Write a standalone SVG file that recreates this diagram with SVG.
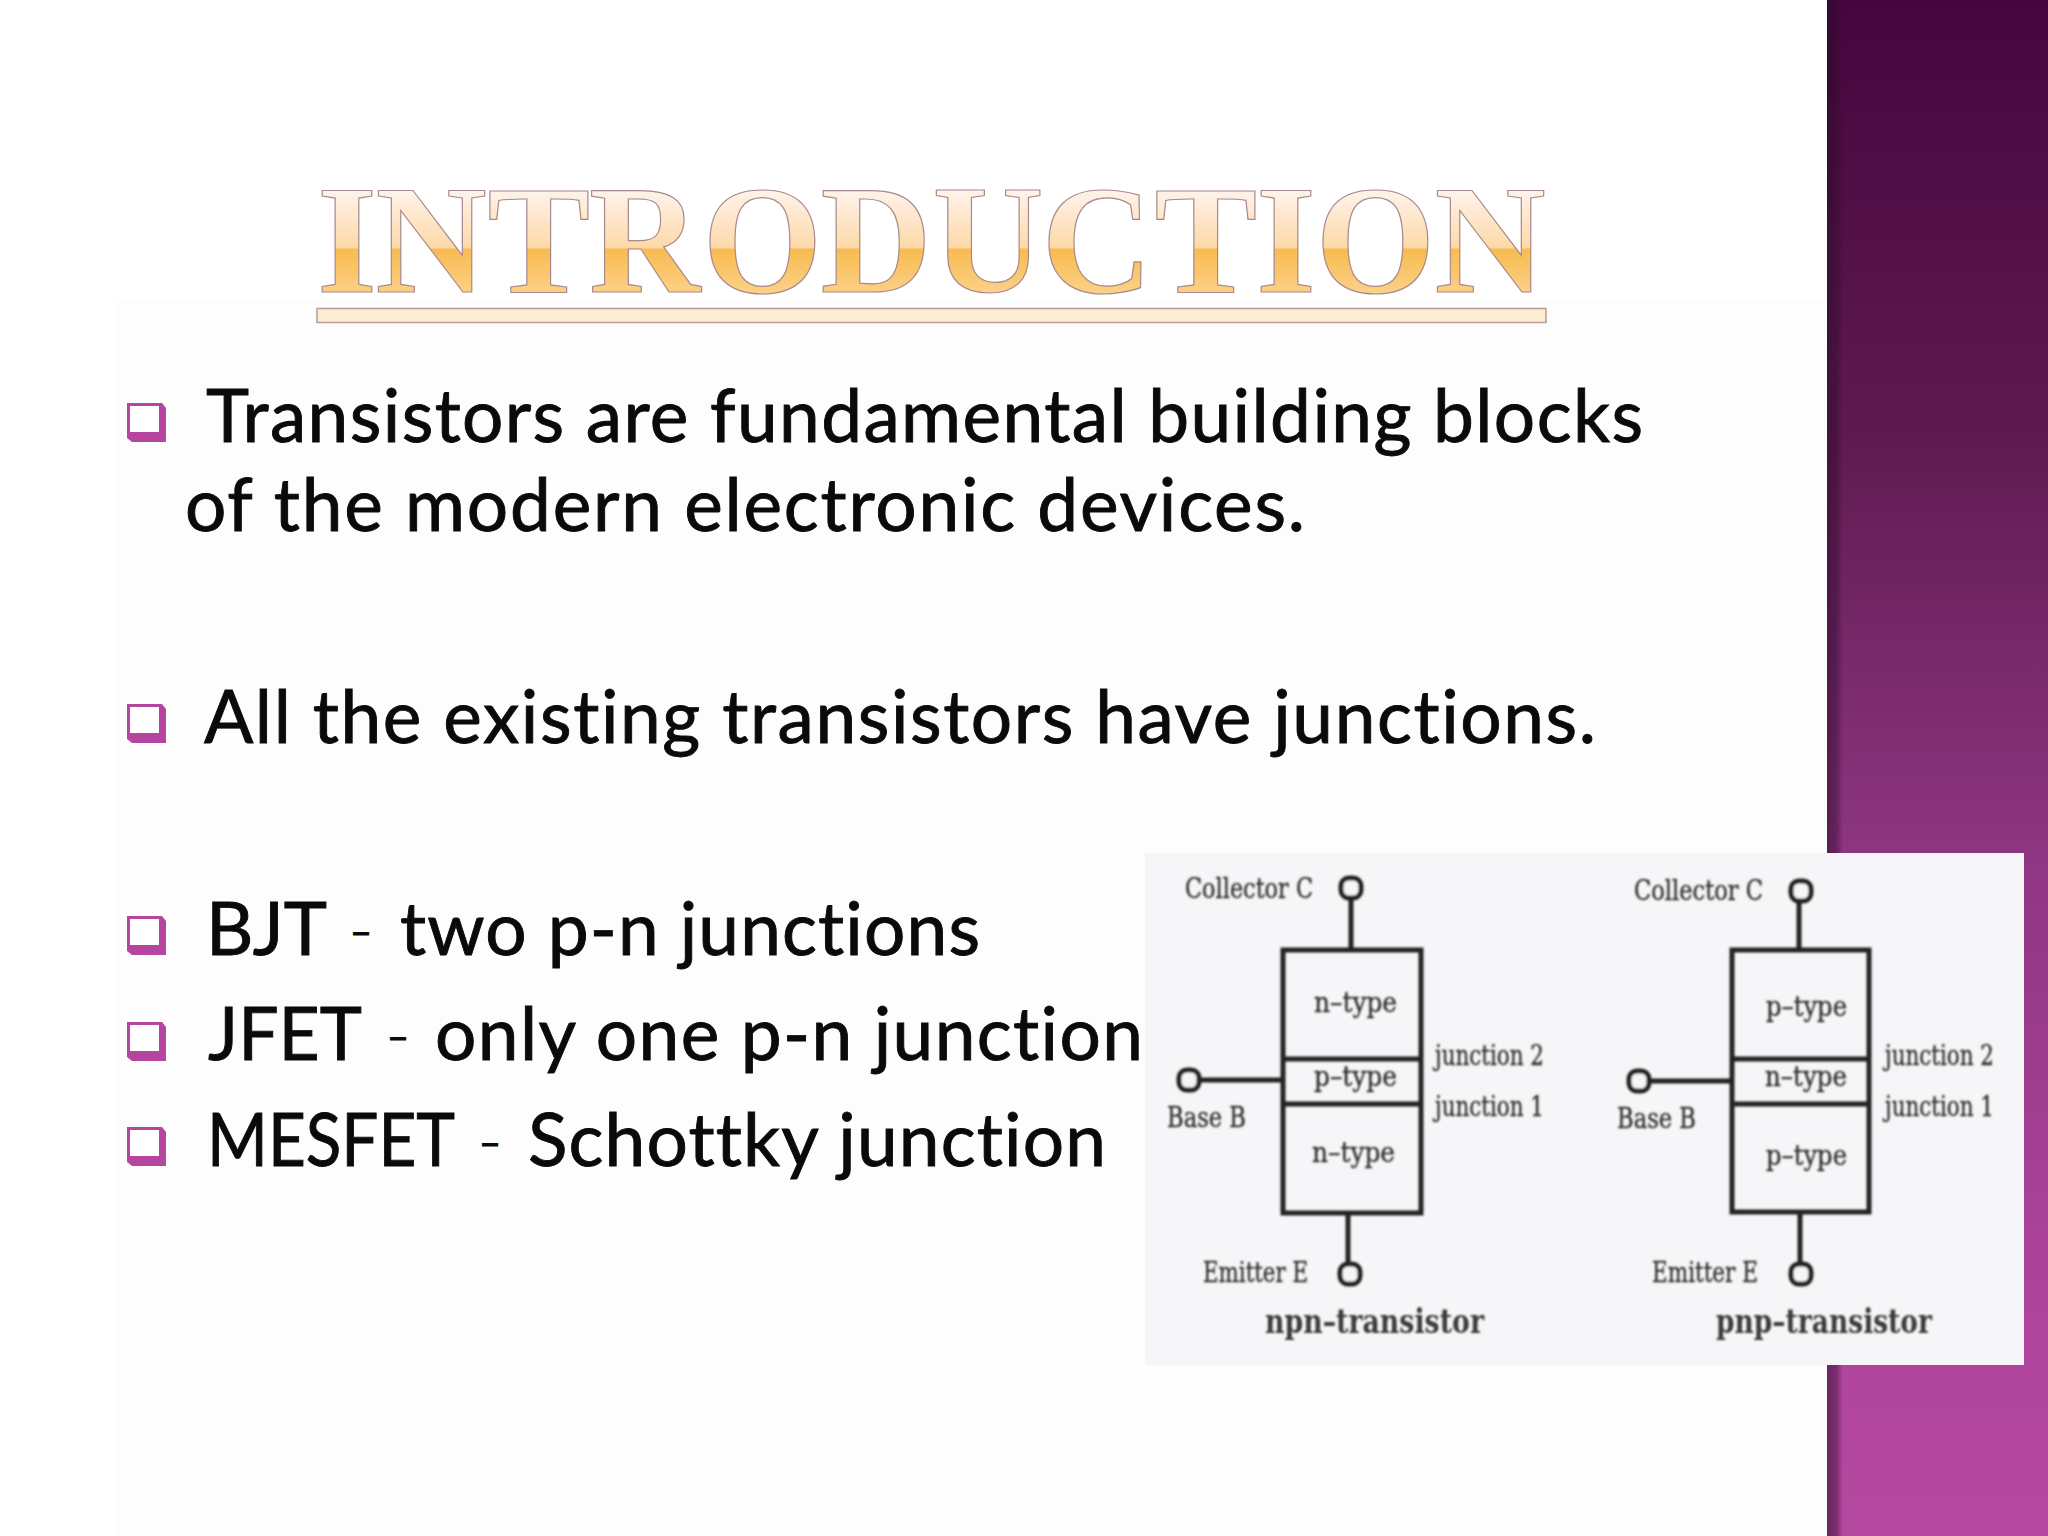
<svg xmlns="http://www.w3.org/2000/svg" width="2048" height="1536" viewBox="0 0 2048 1536">
<style>
.body{font-family:"Lato","Noto Sans",sans-serif;font-size:73px;fill:#0a0a0a;stroke:#0a0a0a;stroke-width:0.9;font-variant-ligatures:none}
.dash{font-family:"Lato","Noto Sans",sans-serif;font-size:38px;fill:#0a0a0a;stroke:#0a0a0a;stroke-width:1}
.lab{font-family:"DejaVu Serif","Liberation Serif",serif;font-size:27px;fill:#333;stroke:#333;stroke-width:0.4}
.cap{font-family:"DejaVu Serif","Liberation Serif",serif;font-size:33px;font-weight:bold;fill:#3a3a3a}
.ln{fill:none;stroke:#222;stroke-width:5}
.term{fill:#f6f5f8;stroke:#222;stroke-width:5}
</style>
<defs>
<linearGradient id="side" x1="0" y1="0" x2="0" y2="1">
<stop offset="0" stop-color="#47053f"/>
<stop offset="0.28" stop-color="#5e1a50"/>
<stop offset="0.56" stop-color="#8f3682"/>
<stop offset="0.87" stop-color="#b0459e"/>
<stop offset="1" stop-color="#b5489f"/>
</linearGradient>
<linearGradient id="edge" x1="0" y1="0" x2="1" y2="0">
<stop offset="0" stop-color="#2a0a2a" stop-opacity="0.55"/>
<stop offset="0.6" stop-color="#2a0a2a" stop-opacity="0.4"/>
<stop offset="1" stop-color="#2a0a2a" stop-opacity="0"/>
</linearGradient>
<linearGradient id="gold" gradientUnits="userSpaceOnUse" x1="0" y1="188" x2="0" y2="296">
<stop offset="0" stop-color="#fff4ee"/>
<stop offset="0.55" stop-color="#fdd9a8"/>
<stop offset="0.57" stop-color="#f8bb50"/>
<stop offset="1" stop-color="#fcd28c"/>
</linearGradient>
<filter id="soft" x="-5%" y="-5%" width="110%" height="110%"><feGaussianBlur stdDeviation="0.8"/></filter>
<g id="bullet">
<path d="M0 0H35L39 5V39H5L0 35Z" fill="#b5459f"/>
<rect x="3" y="3" width="29" height="26" fill="#fff"/>
</g>
</defs>
<rect id="background" width="2048" height="1536" fill="#fff"/>
<rect x="115" y="300" width="1711" height="1236" fill="#fefdfe"/>
<rect id="sidebar" x="1827" width="221" height="1536" fill="url(#side)"/>
<rect id="sidebar-edge" x="1827" width="16" height="1536" fill="url(#edge)"/>
<g id="title">
<text x="317 375.500 487.400 589 702.600 820.500 932.500 1041.500 1154.400 1256 1315.600 1434.500" y="292" font-family="Liberation Serif" font-weight="bold" font-size="154" fill="url(#gold)" stroke="#a98a8c" stroke-width="1.2">INTRODUCTION</text>
<rect x="317" y="308.500" width="1229" height="14" fill="#fdecd2" stroke="#b99a9a" stroke-width="1.500"/>
</g>
<g id="bullets">
<use href="#bullet" x="127" y="403"/>
<use href="#bullet" x="127" y="704"/>
<use href="#bullet" x="127" y="916"/>
<use href="#bullet" x="127" y="1022"/>
<use href="#bullet" x="127" y="1127"/>
</g>
<g id="body">
<text class="body" x="206" y="442" textLength="1437">Transistors are fundamental building blocks</text>
<text class="body" x="185" y="531" textLength="1120">of the modern electronic devices.</text>
<text class="body" x="204" y="743" textLength="1392">All the existing transistors have junctions.</text>
<text class="body" x="206" y="955" textLength="121" lengthAdjust="spacingAndGlyphs">BJT</text>
<text class="dash" x="350" y="945">–</text>
<text class="body" x="400" y="955" textLength="580">two p-n junctions</text>
<text class="body" x="208" y="1060" textLength="154" lengthAdjust="spacingAndGlyphs">JFET</text>
<text class="dash" x="387" y="1050">–</text>
<text class="body" x="435" y="1060" textLength="708">only one p-n junction</text>
<text class="body" x="207" y="1166" textLength="248" lengthAdjust="spacingAndGlyphs">MESFET</text>
<text class="dash" x="479" y="1156">–</text>
<text class="body" x="528" y="1166" textLength="578">Schottky junction</text>
</g>
<rect id="figure-panel" x="1145" y="853" width="879" height="512" fill="#f6f5f8"/>
<g filter="url(#soft)">
<g id="connectors">
<path class="ln" d="M1351 898V950"/>
<path class="ln" d="M1199 1080H1283"/>
<path class="ln" d="M1348 1213V1264"/>
<path class="ln" d="M1799 901V950"/>
<path class="ln" d="M1649 1081H1732"/>
<path class="ln" d="M1800 1212V1264"/>
</g>
<g id="npn">
<rect class="ln" x="1283" y="950" width="138" height="263"/>
<path class="ln" d="M1283 1059H1421M1283 1104H1421"/>
<rect class="term" x="1341" y="878" width="20" height="20" rx="8"/>
<rect class="term" x="1179" y="1070" width="20" height="20" rx="8"/>
<rect class="term" x="1340" y="1264" width="20" height="20" rx="8"/>
<text class="lab" x="1185" y="898" textLength="128" lengthAdjust="spacingAndGlyphs">Collector C</text>
<text class="lab" x="1314" y="1012" textLength="83" lengthAdjust="spacingAndGlyphs">n–type</text>
<text class="lab" x="1314" y="1086" textLength="83" lengthAdjust="spacingAndGlyphs">p–type</text>
<text class="lab" x="1312" y="1162" textLength="83" lengthAdjust="spacingAndGlyphs">n–type</text>
<text class="lab" x="1435" y="1065" textLength="109" lengthAdjust="spacingAndGlyphs">junction 2</text>
<text class="lab" x="1435" y="1116" textLength="109" lengthAdjust="spacingAndGlyphs">junction 1</text>
<text class="lab" x="1167" y="1127" textLength="79" lengthAdjust="spacingAndGlyphs">Base B</text>
<text class="lab" x="1203" y="1282" textLength="105" lengthAdjust="spacingAndGlyphs">Emitter E</text>
<text class="cap" x="1265" y="1333" textLength="219" lengthAdjust="spacingAndGlyphs">npn–transistor</text>
</g>
<g id="pnp">
<rect class="ln" x="1732" y="950" width="137" height="262"/>
<path class="ln" d="M1732 1059H1869M1732 1104H1869"/>
<rect class="term" x="1791" y="881" width="20" height="20" rx="8"/>
<rect class="term" x="1629" y="1071" width="20" height="20" rx="8"/>
<rect class="term" x="1791" y="1264" width="20" height="20" rx="8"/>
<text class="lab" x="1634" y="900" textLength="129" lengthAdjust="spacingAndGlyphs">Collector C</text>
<text class="lab" x="1766" y="1016" textLength="81" lengthAdjust="spacingAndGlyphs">p–type</text>
<text class="lab" x="1765" y="1086" textLength="82" lengthAdjust="spacingAndGlyphs">n–type</text>
<text class="lab" x="1766" y="1165" textLength="81" lengthAdjust="spacingAndGlyphs">p–type</text>
<text class="lab" x="1885" y="1065" textLength="109" lengthAdjust="spacingAndGlyphs">junction 2</text>
<text class="lab" x="1885" y="1116" textLength="109" lengthAdjust="spacingAndGlyphs">junction 1</text>
<text class="lab" x="1617" y="1128" textLength="79" lengthAdjust="spacingAndGlyphs">Base B</text>
<text class="lab" x="1652" y="1282" textLength="106" lengthAdjust="spacingAndGlyphs">Emitter E</text>
<text class="cap" x="1716" y="1333" textLength="216" lengthAdjust="spacingAndGlyphs">pnp–transistor</text>
</g>
</g>
</svg>
